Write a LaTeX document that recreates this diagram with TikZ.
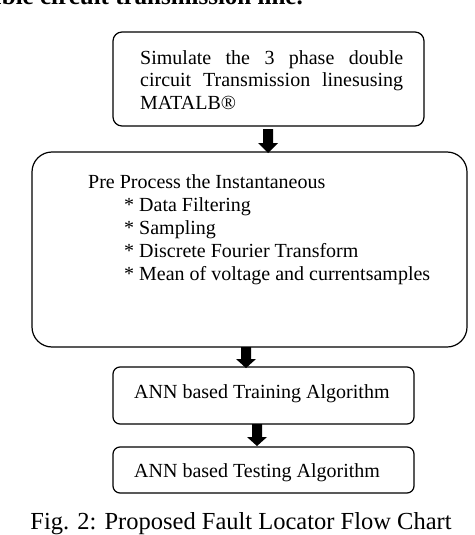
\documentclass[tikz,border=0pt]{standalone}
\usepackage{fontspec}
\setmainfont{Liberation Serif}
\begin{document}
\begin{tikzpicture}[x=1pt,y=-1pt,
  box/.style={draw=black,line width=1.2pt},
  blockarrow/.style={fill=black,draw=none},
  txt/.style={inner sep=0pt,font=\fontsize{20}{22.5}\selectfont}]
\clip (0,0) rectangle (474,535);
\useasboundingbox (0,0) rectangle (474,535);
% clipped heading line
\node[inner sep=0pt,anchor=base east,font=\bfseries\fontsize{25}{27}\selectfont] (head) at (303,5) {double circuit transmission line.};
% boxes
\draw[box,rounded corners=9pt] (113,32) rectangle (424,126);
\draw[box,rounded corners=20pt] (32,152) rectangle (467,347);
\draw[box,rounded corners=7pt] (113,367) rectangle (414,424);
\draw[box,rounded corners=7pt] (113,447) rectangle (414,493);
% texts
\node[txt,anchor=base west] (t1a) at (140,64) {\makebox[263pt][s]{Simulate the 3 phase double}};
\node[txt,anchor=base west] (t1b) at (140,86.5) {\makebox[263pt][s]{circuit Transmission linesusing}};
\node[txt,anchor=base west] (t1c) at (140,109) {MATALB®};
\node[txt,anchor=base west] (t2a) at (88,188) {Pre Process the Instantaneous};
\node[txt,anchor=base west] (t2b) at (124,211) {* Data Filtering};
\node[txt,anchor=base west] (t2c) at (124,234) {* Sampling};
\node[txt,anchor=base west] (t2d) at (124,257) {* Discrete Fourier Transform};
\node[txt,anchor=base west] (t2e) at (124,280) {* Mean of voltage and currentsamples};
\node[txt,anchor=base west] (t3) at (134,398) {ANN based Training Algorithm};
\node[txt,anchor=base west] (t4) at (134,477) {ANN based Testing Algorithm};
\node[inner sep=0pt,anchor=base,font=\fontsize{24.5}{26}\selectfont] (cap) at (241,529) {Fig. 2: Proposed Fault Locator Flow Chart};
% block arrows
\fill[blockarrow] (263,129) -- (273,129) -- (273,143) -- (278,143) -- (268,153) -- (258,143) -- (263,143) -- cycle;
\fill[blockarrow] (241,347) -- (251,347) -- (251,359) -- (256,359) -- (246,368) -- (236,359) -- (241,359) -- cycle;
\fill[blockarrow] (252,424) -- (262,424) -- (262,437) -- (267,437) -- (257,446) -- (247,437) -- (252,437) -- cycle;
\end{tikzpicture}
\end{document}
